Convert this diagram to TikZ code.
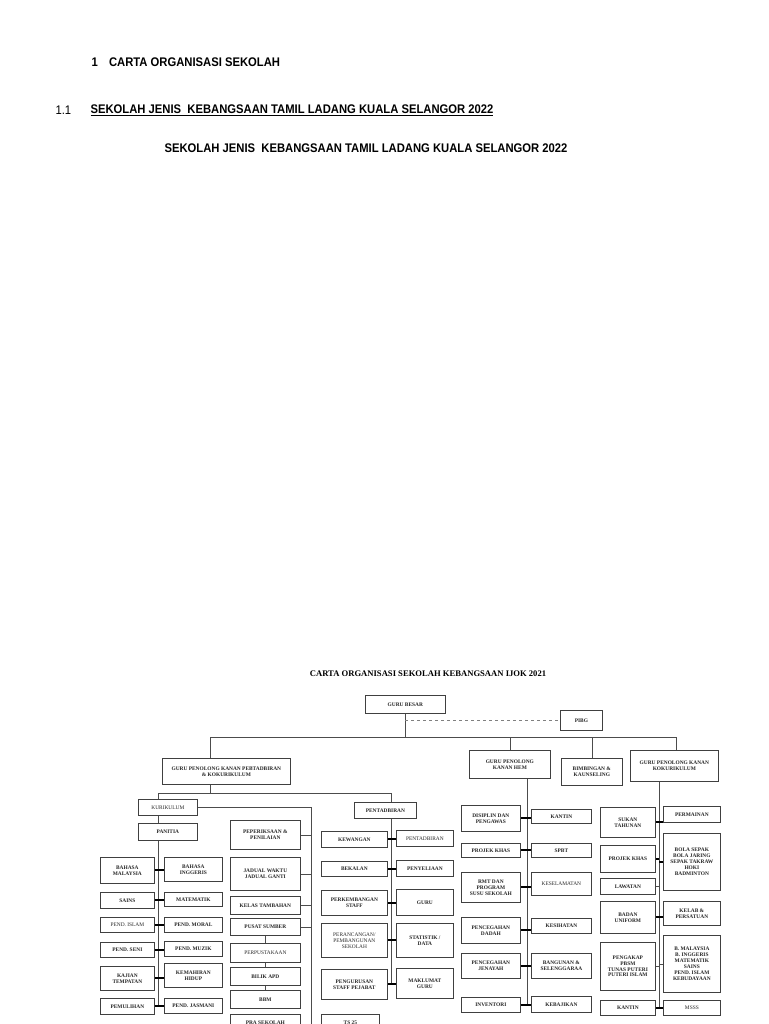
\documentclass[tikz,border=0pt]{standalone}
\usepackage{fontspec}
\setmainfont{Liberation Serif}
\newfontfamily\hdfont{Liberation Sans}
\usetikzlibrary{backgrounds}
\newcommand\chartfont{\fontsize{5.4}{5.9}\selectfont\bfseries}
\newcommand\hd[1]{\scalebox{0.9}[1]{#1}}
\tikzset{
  box/.style={draw=black!75,line width=0.7pt,fill=white,inner sep=1pt,font=\chartfont,align=center,anchor=north west,text=black!85},
  tick/.style={line width=1.8pt},
  conn/.style={line width=0.6pt,black!70},
  hdr/.style={font=\hdfont\bfseries\fontsize{12.5}{14}\selectfont},
}
\newcommand\bx[6]{\node[box,minimum width={(#4-#2)*1pt},minimum height={(#5-#3)*1pt}] (#1) at (#2,#3) {#6};}
\begin{document}
\begin{tikzpicture}[x=1pt,y=-1pt]
\useasboundingbox (0,0) rectangle (768,1024);
% headers
\node[anchor=west,hdr] (h1) at (88,62) {\hd{1\quad CARTA ORGANISASI SEKOLAH}};
\node[anchor=west,hdr,font=\hdfont\fontsize{12.5}{14}\selectfont] (h2n) at (52,110) {\hd{1.1}};
\node[anchor=west,hdr] (h2) at (87,110) {\hd{\underline{SEKOLAH JENIS\ \ KEBANGSAAN TAMIL LADANG KUALA SELANGOR 2022}}};
\node[hdr] (h3) at (366,148) {\hd{SEKOLAH JENIS\ \ KEBANGSAAN TAMIL LADANG KUALA SELANGOR 2022}};
\node[font=\bfseries\fontsize{8.6}{10}\selectfont] (title) at (428,674) {CARTA ORGANISASI SEKOLAH KEBANGSAAN IJOK 2021};
% top level
\bx{gb}{365}{695}{445}{713}{GURU BESAR}
\bx{pibg}{560}{710}{602}{730}{PIBG}
\bx{gpkp}{162}{758}{290}{784}{GURU PENOLONG KANAN PEBTADBIRAN\\\& KOKURIKULUM}
\bx{hem}{469}{750}{550}{778}{GURU PENOLONG\\KANAN HEM}
\bx{bk}{561}{758}{622}{785}{BIMBINGAN \&\\KAUNSELING}
\bx{koko}{630}{750}{718}{781}{GURU PENOLONG KANAN\\KOKURIKULUM}
% kurikulum
\bx{kur}{138}{799}{197}{815}{\mdseries KURIKULUM}
\bx{pent}{354}{802}{416}{818}{PENTADBIRAN}
\bx{pan}{138}{823}{197}{840}{PANITIA}
\bx{bm}{100}{857}{154}{883}{BAHASA\\MALAYSIA}
\bx{bi}{164}{857}{222}{881}{BAHASA\\INGGERIS}
\bx{sains}{100}{892}{154}{908}{SAINS}
\bx{mat}{164}{892}{222}{906}{MATEMATIK}
\bx{pi}{100}{917}{154}{932}{\mdseries PEND. ISLAM}
\bx{pm}{164}{917}{222}{932}{PEND. MORAL}
\bx{ps}{100}{942}{154}{957}{PEND. SENI}
\bx{pmz}{164}{941}{222}{956}{PEND. MUZIK}
\bx{kt}{100}{966}{154}{990}{KAJIAN\\TEMPATAN}
\bx{kh}{164}{963}{222}{987}{KEMAHIRAN\\HIDUP}
\bx{pml}{100}{998}{154}{1014}{PEMULIHAN}
\bx{pj}{164}{998}{222}{1013}{PEND. JASMANI}
% middle column
\bx{pep}{230}{820}{300}{849}{PEPERIKSAAN \&\\PENILAIAN}
\bx{jw}{230}{857}{300}{890}{JADUAL WAKTU\\JADUAL GANTI}
\bx{kls}{230}{896}{300}{914}{KELAS TAMBAHAN}
\bx{pus}{230}{918}{300}{935}{PUSAT SUMBER}
\bx{perp}{230}{943}{300}{962}{\mdseries PERPUSTAKAAN}
\bx{apd}{230}{967}{300}{985}{BILIK APD}
\bx{bbm}{230}{990}{300}{1008}{BBM}
\bx{pra}{230}{1014}{300}{1030}{PRA SEKOLAH}
% pentadbiran
\bx{kew}{321}{831}{387}{847}{KEWANGAN}
\bx{pen2}{396}{830}{453}{846}{\mdseries PENTADBIRAN}
\bx{bek}{321}{861}{387}{876}{BEKALAN}
\bx{peny}{396}{860}{453}{876}{PENYELIAAN}
\bx{perk}{321}{890}{387}{915}{PERKEMBANGAN\\STAFF}
\bx{guru}{396}{889}{453}{915}{GURU}
\bx{peran}{321}{923}{387}{957}{\mdseries PERANCANGAN/\\\mdseries PEMBANGUNAN\\\mdseries SEKOLAH}
\bx{stat}{396}{923}{453}{957}{STATISTIK /\\DATA}
\bx{pgs}{321}{969}{387}{999}{PENGURUSAN\\STAFF PEJABAT}
\bx{mak}{396}{968}{453}{998}{MAKLUMAT\\GURU}
\bx{ts}{321}{1014}{379}{1030}{TS 25}
% HEM
\bx{dis}{461}{805}{520}{831}{DISIPLIN DAN\\PENGAWAS}
\bx{kan}{531}{809}{591}{823}{KANTIN}
\bx{pk}{461}{843}{520}{857}{PROJEK KHAS}
\bx{spbt}{531}{843}{591}{857}{SPBT}
\bx{rmt}{461}{872}{520}{902}{RMT DAN\\PROGRAM\\SUSU SEKOLAH}
\bx{kes}{531}{872}{591}{895}{\mdseries KESELAMATAN}
\bx{pd}{461}{917}{520}{943}{PENCEGAHAN\\DADAH}
\bx{kesi}{531}{918}{591}{933}{KESIHATAN}
\bx{pjn}{461}{953}{520}{978}{PENCEGAHAN\\JENAYAH}
\bx{bang}{531}{953}{591}{978}{BANGUNAN \&\\SELENGGARAA}
\bx{inv}{461}{997}{520}{1012}{INVENTORI}
\bx{keb}{531}{996}{591}{1012}{KEBAJIKAN}
% koko
\bx{suk}{600}{807}{655}{837}{SUKAN\\TAHUNAN}
\bx{perm}{663}{806}{720}{822}{PERMAINAN}
\bx{pk2}{600}{845}{655}{872}{PROJEK KHAS}
\bx{bola}{663}{833}{720}{890}{BOLA SEPAK\\BOLA JARING\\SEPAK TAKRAW\\HOKI\\BADMINTON}
\bx{law}{600}{878}{655}{894}{LAWATAN}
\bx{bu}{600}{901}{655}{933}{BADAN\\UNIFORM}
\bx{kel}{663}{901}{720}{925}{KELAB \&\\PERSATUAN}
\bx{peng}{600}{942}{655}{990}{PENGAKAP\\PBSM\\TUNAS PUTERI\\PUTERI ISLAM}
\bx{bmal}{663}{935}{720}{992}{B. MALAYSIA\\B. INGGERIS\\MATEMATIK\\SAINS\\PEND. ISLAM\\KEBUDAYAAN}
\bx{kan2}{600}{1000}{655}{1015}{KANTIN}
\bx{msss}{663}{1000}{720}{1015}{\mdseries MSSS}
% connectors
\begin{pgfonlayer}{background}
\coordinate (barL) at (210,737);
\coordinate (barR) at (676,737);
\coordinate (b2L) at (158,793);
\coordinate (b2R) at (391,793);
\coordinate (ms) at (311,805);
\coordinate (msb) at (311,1024);
\coordinate (hs) at (527,778);
\coordinate (ks) at (659,781);
\draw[conn] (gb.south) -- (gb.south |- barL);
\draw[conn] (barL) -- (barR);
\draw[conn,dashed,gray] (gb.south |- pibg.west) -- (pibg.west);
\draw[conn] (barL) -- (barL |- gpkp.north);
\draw[conn] (hem.north |- barL) -- (hem.north);
\draw[conn] (bk.north |- barL) -- (bk.north);
\draw[conn] (barR) -- (barR |- koko.north);
\draw[conn] (gpkp.south -| barL) -- (barL |- b2L);
\draw[conn] (b2L) -- (b2R);
\draw[conn] (b2L) -- (b2L |- kur.north);
\draw[conn] (b2R) -- (b2R |- pent.north);
\draw[conn] (b2L |- kur.south) -- (b2L |- pml.east);
\draw[conn] (kur.east) -- (kur.east -| ms) -- (msb);
\foreach \n in {pep,jw,kls,pus} \draw[conn] (\n.east) -- (\n.east -| ms);
\draw[conn] (pus.south) -- (perp.north) (perp.south) -- (apd.north) (apd.south) -- (bbm.north);
\draw[conn] (b2R |- pent.south) -- (b2R |- pgs.east);
\draw[conn] (hs) -- (hs |- inv.east);
\draw[conn] (ks) -- (ks |- kan2.east);
\foreach \a/\b in {bm/bi,sains/mat,pi/pm,ps/pmz,kt/kh,pml/pj,kew/pen2,bek/peny,perk/guru,peran/stat,pgs/mak,dis/kan,pk/spbt,rmt/kes,pd/kesi,pjn/bang,inv/keb,suk/perm,bu/kel,kan2/msss}
  \draw[tick] (\a.east) -- (\a.east -| \b.west);
\draw[tick] (pk2.east) -- (pk2.east -| ks);
\draw[tick] (ks |- bola.west) -- (bola.west);
\draw[conn] (law.east) -- (law.east -| ks);
\draw[conn] (peng.east) -- (peng.east -| ks);
\draw[conn] (ks |- bmal.west) -- (bmal.west);
\end{pgfonlayer}
\end{tikzpicture}
\end{document}
